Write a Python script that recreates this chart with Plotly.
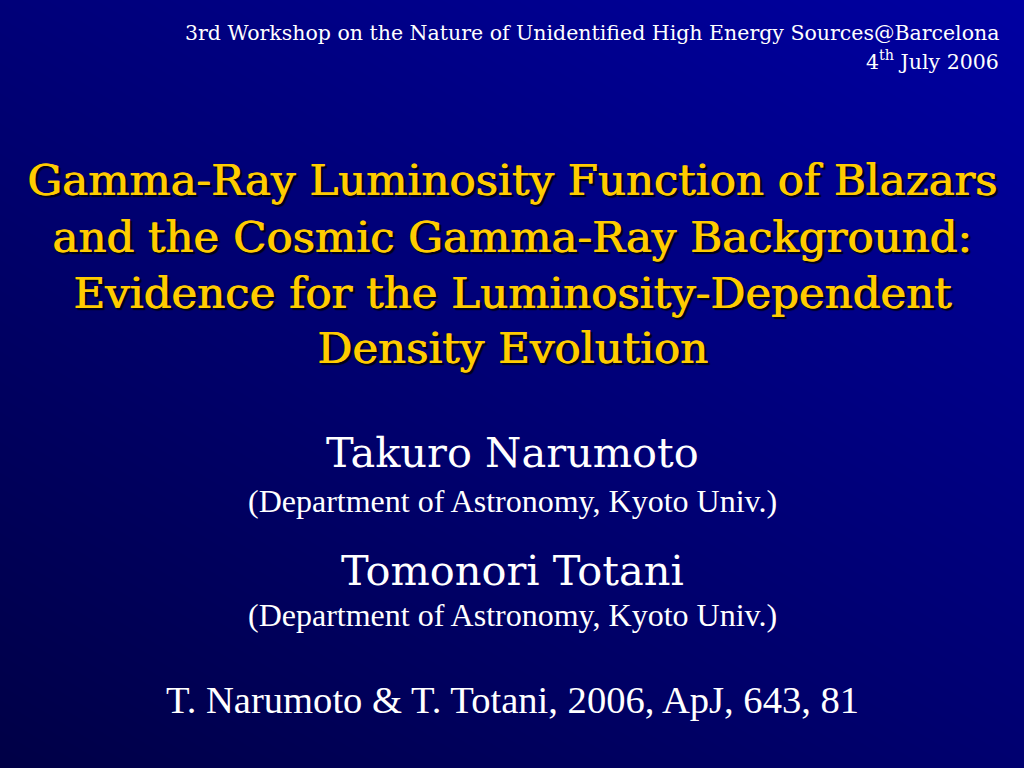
import plotly.graph_objects as go

# Slide text
header_lines = [
    "3rd Workshop on the Nature of Unidentified High Energy Sources@Barcelona",
    "4<sup>th</sup> July 2006",
]
title_lines = [
    "Gamma-Ray Luminosity Function of Blazars",
    "and the Cosmic Gamma-Ray Background:",
    "Evidence for the Luminosity-Dependent",
    "Density Evolution",
]
authors = ["Takuro Narumoto", "Tomonori Totani"]
affiliations = [
    "(Department of Astronomy, Kyoto Univ.)",
    "(Department of Astronomy, Kyoto Univ.)",
]
citation = "T. Narumoto & T. Totani, 2006, ApJ, 643, 81"

W, H = 1024, 768


def py(pix):
    # pixel row from top -> paper y
    return 1 - pix / H


fig = go.Figure()

# background gradient: dark bottom-left to bright top-right
fig.add_trace(go.Heatmap(
    x=[0, 1], y=[0, 1],
    z=[[0, 0.45], [0.55, 1]],
    zsmooth="best",
    colorscale=[[0, "#000046"], [1, "#0000a2"]],
    showscale=False, hoverinfo="skip",
))

ann = []

# header, right aligned
for txt, ypix in zip(header_lines, [33, 60]):
    ann.append(dict(text=txt, x=1001 / W, y=py(ypix), xanchor="right", yanchor="middle",
                    font=dict(family="DejaVu Serif", size=20.5, color="white")))

# title: gold, slightly thickened, with dark drop shadow
title_y = [180, 237, 293, 348]
for txt, ypix in zip(title_lines, title_y):
    ann.append(dict(text=txt, x=0.5, y=py(ypix), xanchor="center", yanchor="middle",
                    font=dict(family="DejaVu Serif", size=43.5, color="#ffcc00",
                              shadow="1px 0px 0px #ffcc00, 3px 2px 1px #00001a, 2px 2px 1px #00001a")))

# authors and affiliations
for name, ypix in zip(authors, [452, 570]):
    ann.append(dict(text=name, x=0.5, y=py(ypix), xanchor="center", yanchor="middle",
                    font=dict(family="DejaVu Serif", size=41.5, color="white")))
for aff, ypix in zip(affiliations, [501, 615]):
    ann.append(dict(text=aff, x=0.5, y=py(ypix), xanchor="center", yanchor="middle",
                    font=dict(family="Liberation Serif", size=32, color="white")))

ann.append(dict(text=citation, x=0.5, y=py(700), xanchor="center", yanchor="middle",
                font=dict(family="Liberation Serif", size=38.6, color="white")))

for a in ann:
    a.update(xref="paper", yref="paper", showarrow=False)

fig.update_layout(
    width=W, height=H,
    margin=dict(l=0, r=0, t=0, b=0),
    paper_bgcolor="#000070",
    plot_bgcolor="#000070",
    xaxis=dict(visible=False, range=[0, 1], fixedrange=True),
    yaxis=dict(visible=False, range=[0, 1], fixedrange=True),
    annotations=ann,
    showlegend=False,
)

fig.write_html("out.html", config={"displayModeBar": False},
               post_script="document.body.style.margin='0';document.body.style.overflow='hidden';")
